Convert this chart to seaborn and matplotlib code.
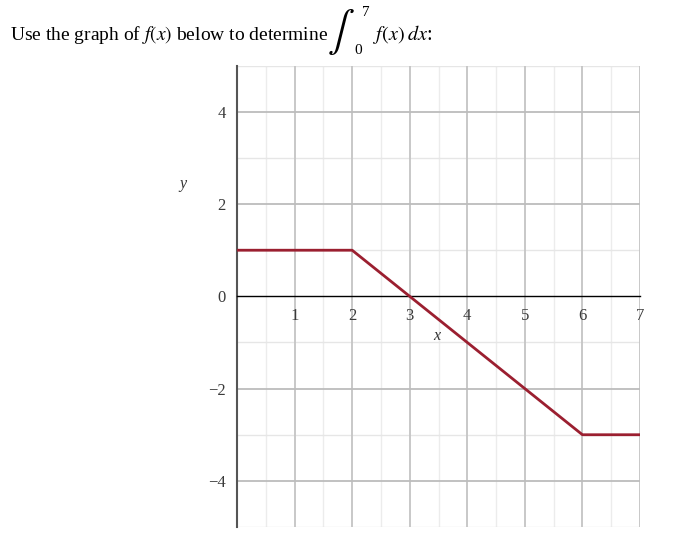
import matplotlib
matplotlib.use("Agg")
import matplotlib.pyplot as plt
import seaborn as sns
import pandas as pd
import numpy as np

# Data: vertices of the piecewise-linear f(x)
x_vals = [0, 2, 3, 6, 7]
y_vals = [1, 1, 0, -3, -3]
x_ticks = [1, 2, 3, 4, 5, 6, 7]
y_ticks = [-4, -2, 0, 2, 4]
y_tick_labels = ["\u22124", "\u22122", "0", "2", "4"]
title_text = r"Use the graph of $f(x)$ below to determine"
integrand_text = r"$f(x)\;dx$:"
lower_limit = "0"
upper_limit = "7"

sns.set_style("white")
plt.rcParams['font.family'] = ['Liberation Serif', 'DejaVu Serif']
plt.rcParams['mathtext.fontset'] = 'stix'

fig = plt.figure(figsize=(6.8, 5.48), dpi=100)
ax = fig.add_axes([237/680, 1 - 527/548, (640-237)/680, (527-65.7)/548])

df = pd.DataFrame({"x": x_vals, "y": y_vals})

ax.set_xlim(0, 7)
ax.set_ylim(-5, 5)

# grid
for xv in np.arange(0.5, 7, 1.0):
    ax.axvline(xv, color="#ececec", lw=1.0, zorder=0)
for yv in [-5, -3, -1, 1, 3, 5]:
    ax.axhline(yv, color="#e6e6e6", lw=1.0, zorder=0)
for xv in range(1, 8):
    ax.axvline(xv, color="#c4c4c4", lw=1.3, zorder=0.5)
for yv in [-4, -2, 2, 4]:
    ax.axhline(yv, color="#bcbcbc", lw=1.3, zorder=0.5)

sns.lineplot(data=df, x="x", y="y", ax=ax, color="#9b1f30", lw=2.0, zorder=5,
             solid_capstyle="butt")

for s in ["top", "right"]:
    ax.spines[s].set_visible(False)
ax.spines["bottom"].set_position(("data", 0))
ax.spines["bottom"].set_color("black")
ax.spines["bottom"].set_linewidth(1.0)
ax.spines["left"].set_color("#555555")
ax.spines["left"].set_linewidth(1.5)

ax.set_xticks(x_ticks)
ax.set_xticklabels([str(t) for t in x_ticks])
ax.set_yticks(y_ticks)
ax.set_yticklabels(y_tick_labels)
ax.tick_params(axis="x", length=3, width=1, color="#333333", pad=7,
               labelsize=12, labelcolor="#3a3a3a", direction="inout")
ax.tick_params(axis="y", length=0, pad=8, labelsize=12, labelcolor="#3a3a3a")
ax.set_xlabel("")
ax.set_ylabel("")

ax.text(3.47, -0.85, "x", fontsize=11.5, fontstyle="italic", color="#333333",
        ha="center", va="center")
ax.text(-0.94, 2.43, "y", fontsize=11.5, fontstyle="italic", color="#333333",
        ha="center", va="center", clip_on=False)

H = 548
fig.text(10/680, 1 - 35/H, title_text, fontsize=14, ha="left", va="center",
         color="black")
fig.text(341/680, 1 - 32/H, r"$\int$", fontsize=29, ha="center", va="center",
         color="black")
fig.text(366/680, 1 - 12/H, upper_limit, fontsize=11, ha="center", va="center",
         color="black")
fig.text(358/680, 1 - 51/H, lower_limit, fontsize=11, ha="center", va="center",
         color="black")
fig.text(373/680, 1 - 35/H, integrand_text, fontsize=14.5, ha="left", va="center",
         color="black")

fig.savefig("out.png", dpi=100)
